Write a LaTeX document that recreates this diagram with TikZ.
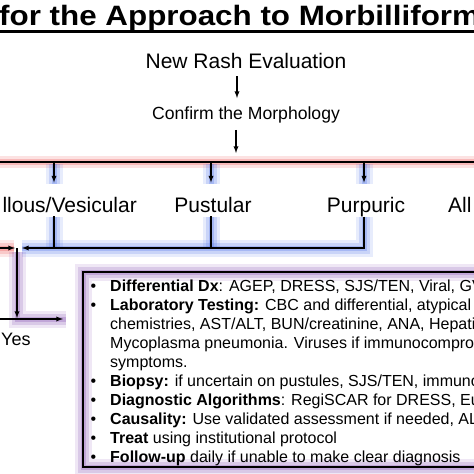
\documentclass[tikz,border=0pt]{standalone}
\usepackage{fontspec}
\setmainfont{Liberation Sans}
\usetikzlibrary{positioning}
\definecolor{glowblue}{RGB}{60,100,230}
\definecolor{glowred}{RGB}{235,60,60}
\definecolor{glowpurple}{RGB}{120,60,170}
\tikzset{
  lbl/.style={inner sep=0pt, font=\fontsize{21}{25}\selectfont},
  txt/.style={anchor=base west, inner sep=0pt, font=\fontsize{16}{19}\selectfont},
  arr/.style={-latex, line width=1.3pt},
  ln/.style={line width=1.3pt},
  glow/.style={draw=none, line cap=round, line join=round,
    preaction={draw=#1, opacity=.12, line width=17pt},
    preaction={draw=#1, opacity=.18, line width=11pt},
    preaction={draw=#1, opacity=.25, line width=5pt}},
  thinglow/.style={draw=none, line cap=round,
    preaction={draw=#1, opacity=.15, line width=12pt},
    preaction={draw=#1, opacity=.25, line width=6pt}},
}
\newcommand{\itm}{\llap{\textbullet\hspace{14pt}}}

\begin{document}
\begin{tikzpicture}[x=1pt,y=-1pt]
\useasboundingbox (0,0) rectangle (474,474);
\clip (0,0) rectangle (474,474);

% title
\node[anchor=base west, inner sep=0pt, font=\bfseries\fontsize{28}{34}\selectfont] (title) at (-1,25) {\scalebox{1.12}[1]{for the Approach to Morbilliform}};
\draw[line width=2.5pt] (title.base west) ++(0,6.5) -- ++(500,0);

\node[lbl, anchor=base] (new) at (246,68) {New Rash Evaluation};
\node[lbl, anchor=base, font=\fontsize{17.6}{21}\selectfont] (conf) at (246,119) {Confirm the Morphology};
\draw[arr, shorten <=8pt, shorten >=8pt] ([xshift=-9pt]new.south) -- ([xshift=-9pt]conf.north);

% morphology line
\coordinate (top) at (236,162);
\coordinate (rl) at (0,162);
\coordinate (rr) at (474,162);
\coordinate (c1) at (54,162);
\coordinate (c2) at (211,162);
\coordinate (c3) at (364,162);
\coordinate (d1) at (54,248);
\coordinate (d2) at (211,248);
\coordinate (d3) at (364,248);
\coordinate (j) at (22,248);

\node[lbl, anchor=base east] (bv) at (137,212) {llous/Vesicular};
\node[lbl, anchor=base] (pu) at (213,212) {Pustular};
\node[lbl, anchor=base] (pp) at (366,212) {Purpuric};
\node[lbl, anchor=base west] (al) at (448,212) {All};

% glows
\path[thinglow=glowred] (rl) -- (rr);
\path[glow=glowred] (0,248) -- (14,248);
\path[glow=glowblue] (c1) ++(0,2) -- ++(0,20);
\path[glow=glowblue] (c2) ++(0,2) -- ++(0,20);
\path[glow=glowblue] (c3) ++(0,2) -- ++(0,20);
\path[glow=glowblue] (d1) ++(0,-31) -- (d1);
\path[glow=glowblue] (d2) ++(0,-31) -- (d2);
\path[glow=glowblue] (d3) ++(0,-31) -- (d3) -- (j);
\path[glow=glowpurple] (17,252) -- (17,319) -- (66,319);
\path[glow=glowpurple] (83,272) rectangle (490,467);

\draw[ln] (rl) -- (rr);
\draw[arr, shorten <=7pt, shorten >=9pt] (conf.south -| top) -- (top);
\draw[arr, shorten >=14pt] (c1) -- (c1 |- bv.north);
\draw[arr, shorten >=14pt] (c2) -- (c2 |- pu.north);
\draw[arr, shorten >=14pt] (c3) -- (c3 |- pp.north);

\draw[ln, shorten <=4pt] (bv.south -| d1) -- (d1);
\draw[ln, shorten <=4pt] (pu.south -| d2) -- (d2);
\draw[arr] (pp.south -| d3) -- (d3) -- (j);

% yes branch
\coordinate (lin) at (0,248);
\coordinate (lt) at (15,248);
\coordinate (v0) at (17,248);
\coordinate (v1) at (17,318);
\coordinate (h0) at (0,319);
\coordinate (h1) at (63,319);
\draw[arr] (lin) -- (lt);
\draw[arr] (v0) -- (v1);
\draw[arr] (h0) -- (h1);
\node[anchor=base west, inner sep=0pt, font=\fontsize{18}{22}\selectfont] (yes) at (1,345) {Yes};

% work-up box
\coordinate (bx0) at (83,272);
\coordinate (bx1) at (490,467);
\draw[line width=2.5pt] (bx0) rectangle (bx1);

\node[txt] (l1) at (110,291) {\itm\textbf{Differential Dx}: AGEP, DRESS, SJS/TEN, Viral, GV};
\node[txt] (l2) at (110,310) {\itm\textbf{Laboratory Testing:} CBC and differential, atypical};
\node[txt] (l3) at (110,329) {chemistries, AST/ALT, BUN/creatinine, ANA, Hepati};
\node[txt] (l4) at (110,348) {Mycoplasma pneumonia. Viruses if immunocompro-};
\node[txt] (l5) at (110,367) {symptoms.};
\node[txt] (l6) at (110,386) {\itm\textbf{Biopsy:} if uncertain on pustules, SJS/TEN, immuno};
\node[txt] (l7) at (110,405) {\itm\textbf{Diagnostic Algorithms}: RegiSCAR for DRESS, Eu};
\node[txt] (l8) at (110,424) {\itm\textbf{Causality:} Use validated assessment if needed, AL};
\node[txt] (l9) at (110,443) {\itm\textbf{Treat} using institutional protocol};
\node[txt] (l10) at (110,462) {\itm\textbf{Follow-up} daily if unable to make clear diagnosis};
\end{tikzpicture}
\end{document}
